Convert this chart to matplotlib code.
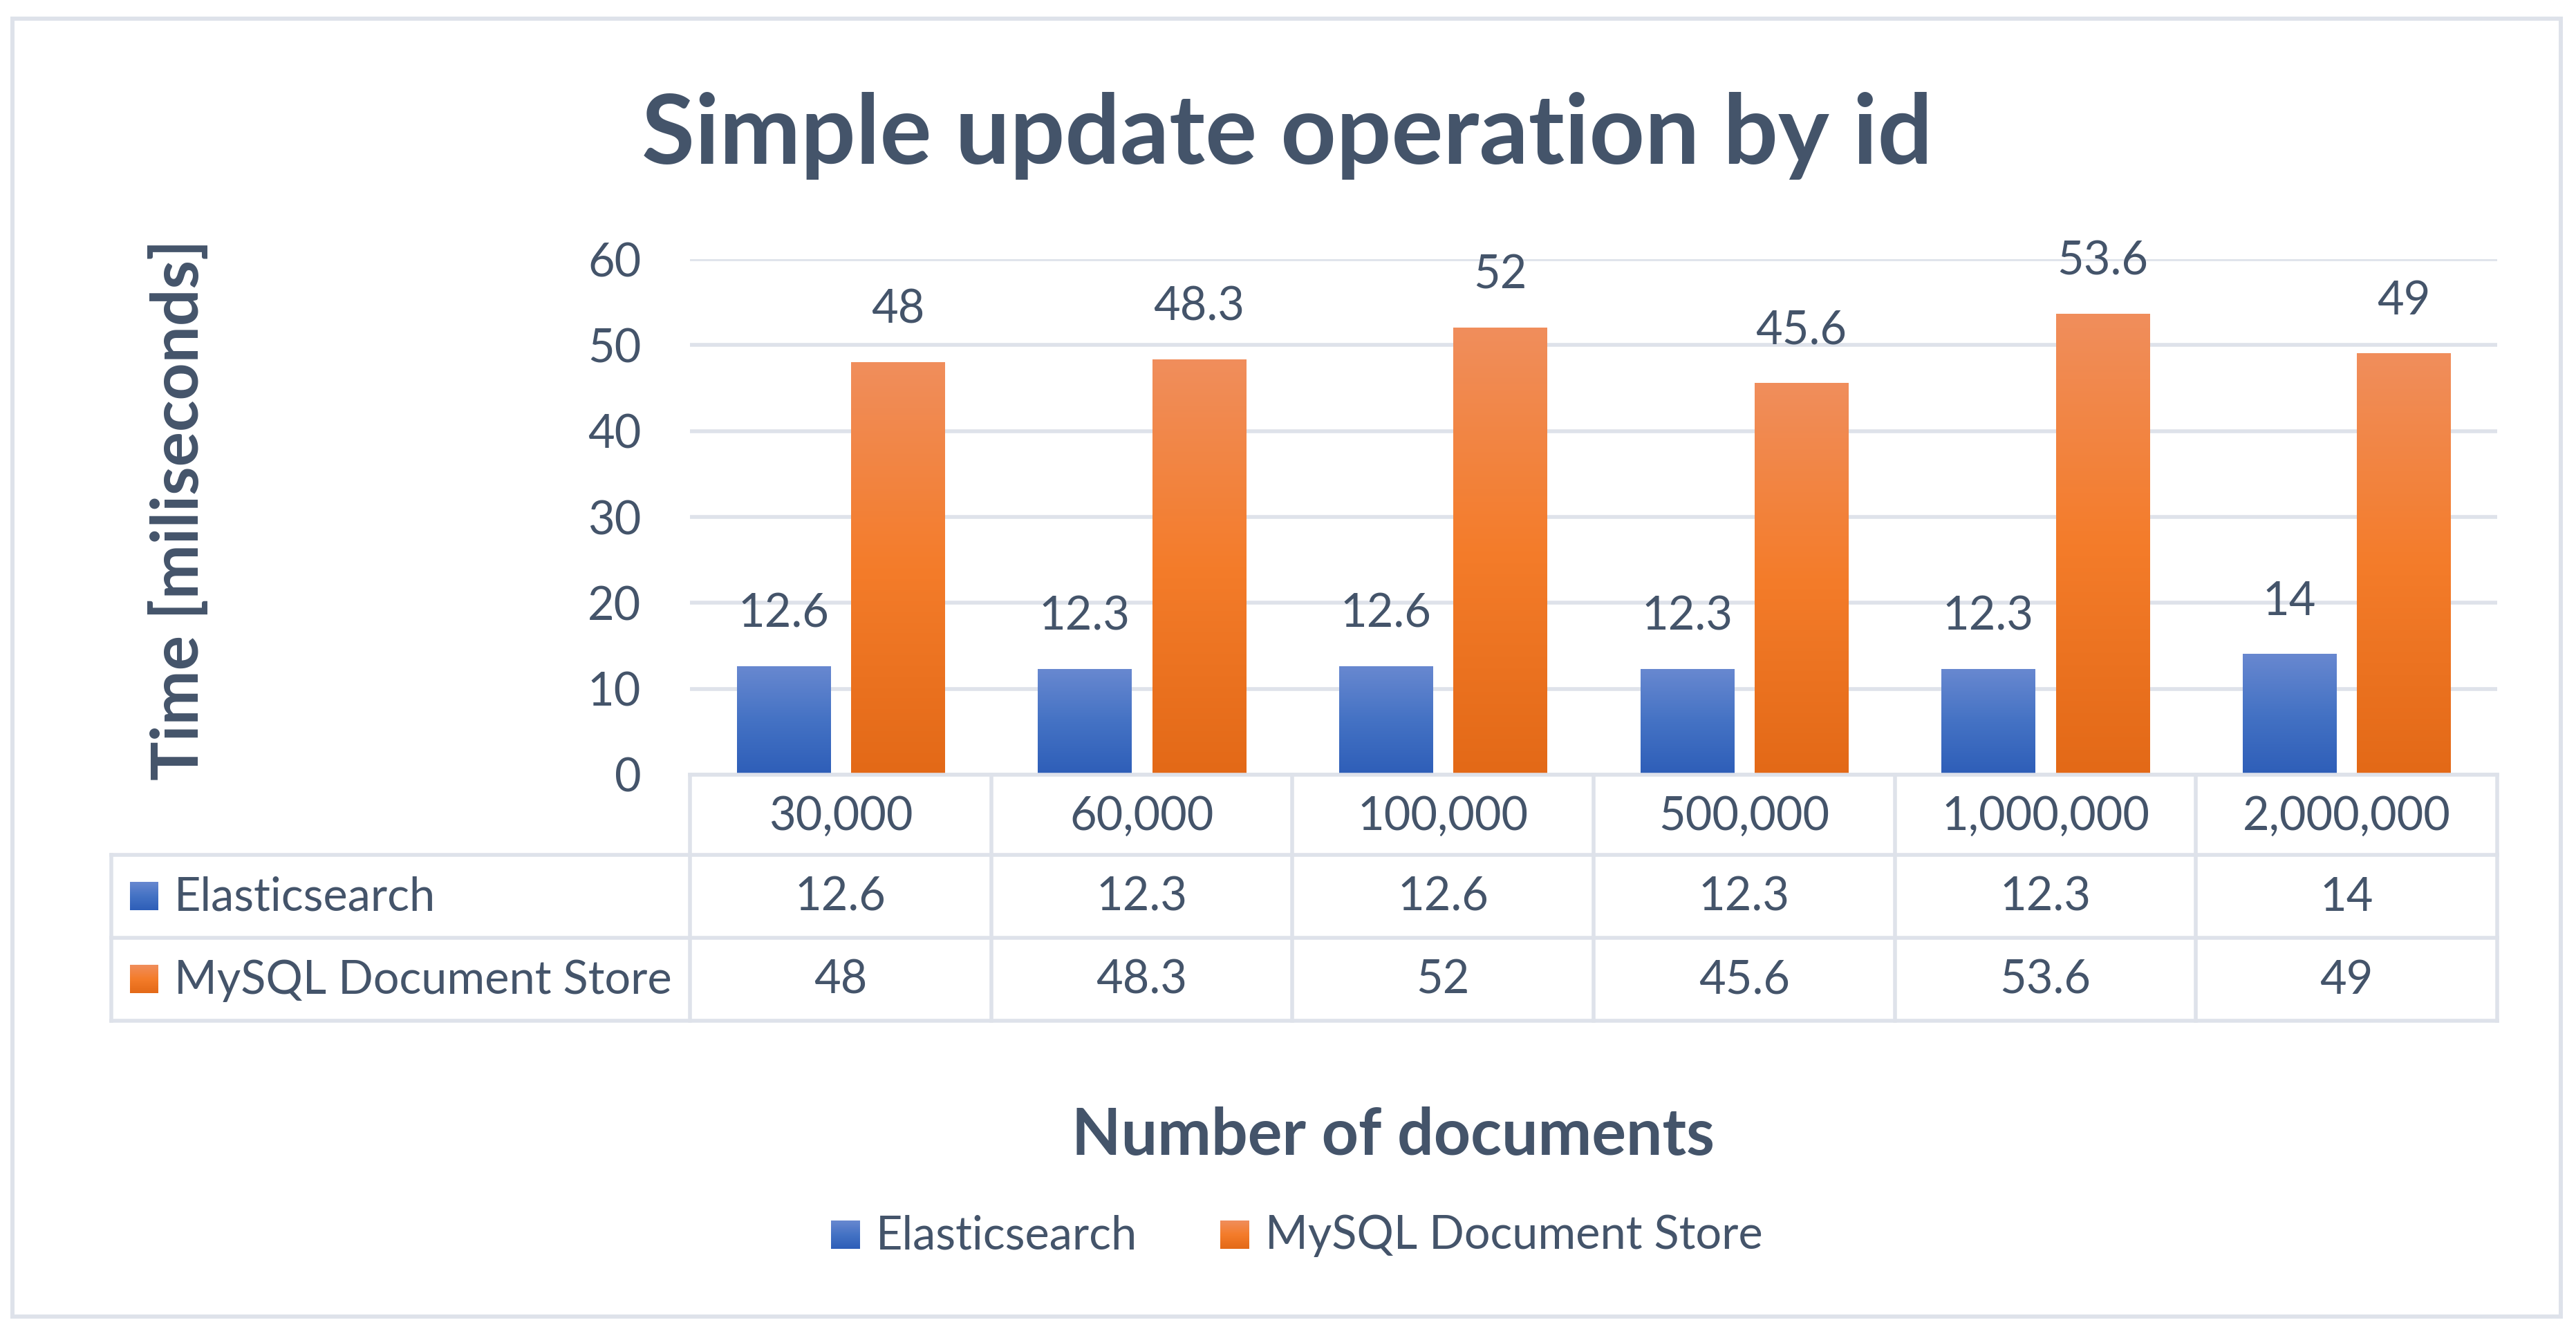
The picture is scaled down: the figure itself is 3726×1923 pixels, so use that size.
import numpy as np
import matplotlib
matplotlib.use('Agg')
import matplotlib.pyplot as plt
from matplotlib.colors import LinearSegmentedColormap
from matplotlib.patches import Rectangle

plt.rcParams['font.family'] = ['Lato', 'DejaVu Sans']

# dane z wykresu
categories = ['30,000', '60,000', '100,000', '500,000', '1,000,000', '2,000,000']
series = ['Elasticsearch', 'MySQL Document Store']
elastic = [12.6, 12.3, 12.6, 12.3, 12.3, 14]
mysql = [48, 48.3, 52, 45.6, 53.6, 49]
y_ticks = [0, 10, 20, 30, 40, 50, 60]

title = 'Simple update operation by id'
x_title = 'Number of documents'
y_title = 'Time [miliseconds]'

text_color = '#44546A'
line_color = '#DEE2EA'
blue_cmap = LinearSegmentedColormap.from_list('b', ['#2E5EB8', '#4472C4', '#6888D0'])
orange_cmap = LinearSegmentedColormap.from_list('o', ['#E36917', '#F47C2A', '#F08E5C'])
ramp = np.linspace(0, 1, 256).reshape(-1, 1)

FS = 48  # zwykly tekst
W, H = 3726, 1923
fig = plt.figure(figsize=(W / 100, H / 100), dpi=100)


def rect(x0, y0, x1, y1):
    return [x0 / W, 1 - y1 / H, (x1 - x0) / W, (y1 - y0) / H]


ax = fig.add_axes(rect(998, 375, 3612, 1121))
x = np.arange(len(categories))
bars_es = ax.bar(x - 0.19, elastic, 0.31, color='#4472C4', zorder=2)
bars_my = ax.bar(x + 0.19, mysql, 0.31, color='#ED7D31', zorder=2)

# gradient na slupkach + etykiety
for bars, cmap in [(bars_es, blue_cmap), (bars_my, orange_cmap)]:
    for b in bars:
        x0, w, h = b.get_x(), b.get_width(), b.get_height()
        ax.imshow(ramp, extent=[x0, x0 + w, 0, h], origin='lower', aspect='auto',
                  cmap=cmap, zorder=3, interpolation='bilinear')
        ax.annotate(f'{h:g}', (x0 + w / 2, h), xytext=(0, 57), textcoords='offset pixels',
                    ha='center', va='baseline', fontsize=FS, color=text_color)

ax.set_xlim(-0.5, len(categories) - 0.5)
ax.set_ylim(0, 60)
ax.set_aspect('auto')
ax.set_yticks(y_ticks)
ax.set_xticks([])
ax.grid(axis='y', color=line_color, lw=4)
ax.set_axisbelow(True)
for s in ax.spines.values():
    s.set_visible(False)
ax.tick_params(axis='y', length=0, pad=51, labelsize=FS, labelcolor=text_color)


def to_px(vals):
    vals = np.asarray(vals, dtype=float)
    return ax.transData.transform(np.column_stack([vals, np.zeros_like(vals)]))[:, 0]


# warstwa w pikselach na reszte (tabela, legenda, tytuly, ramka)
ov = fig.add_axes([0, 0, 1, 1])
ov.patch.set_alpha(0)
ov.axis('off')

ov.add_patch(Rectangle((18, 27), 3686, 1878, fill=False, ec=line_color, lw=4.3))

edges = to_px(np.arange(-0.5, len(categories), 1.0))
centers = to_px(x)
rows = [1121, 1237, 1357, 1477]
left = 161
kw = dict(color=line_color, lw=4, solid_capstyle='projecting')
ov.plot([edges[0], edges[-1]], [rows[0], rows[0]], **kw)
for yy in rows[1:]:
    ov.plot([left, edges[-1]], [yy, yy], **kw)
for e in edges:
    ov.plot([e, e], [rows[0], rows[-1]], **kw)
ov.plot([left, left], [rows[1], rows[-1]], **kw)

row_c = [(rows[i] + rows[i + 1]) / 2 for i in range(3)]
for cx, lab in zip(centers, categories):
    ov.text(cx, row_c[0] + 22, lab, ha='center', va='baseline', fontsize=FS, color=text_color)
for r, name, vals, cmap in [(row_c[1], series[0], elastic, blue_cmap),
                            (row_c[2], series[1], mysql, orange_cmap)]:
    ov.imshow(ramp, extent=[188, 229, r + 20, r - 21], origin='lower', aspect='auto',
              cmap=cmap, interpolation='bilinear')
    ov.text(252, r + 21, name, ha='left', va='baseline', fontsize=FS, color=text_color)
    for cx, v in zip(centers, vals):
        ov.text(cx, r + 21, f'{v:g}', ha='center', va='baseline', fontsize=FS, color=text_color)

# legenda na dole
for kx, name, cmap in [(1202, series[0], blue_cmap), (1765, series[1], orange_cmap)]:
    ov.imshow(ramp, extent=[kx, kx + 42, 1807, 1766], origin='lower', aspect='auto',
              cmap=cmap, interpolation='bilinear')
    ov.text(kx + 65, 1807, name, ha='left', va='baseline', fontsize=FS, color=text_color)

ov.text(1862, 237, title, ha='center', va='baseline', fontsize=101, weight='bold', color=text_color)
ov.text(2015, 1671, x_title, ha='center', va='baseline', fontsize=67, weight='bold', color=text_color)
ov.text(287, 738, y_title, ha='center', va='baseline', rotation=90, rotation_mode='anchor',
        fontsize=68, weight='bold', color=text_color)

ov.set_xlim(0, W)
ov.set_ylim(H, 0)

fig.savefig('out.png', dpi=100, facecolor='white')
